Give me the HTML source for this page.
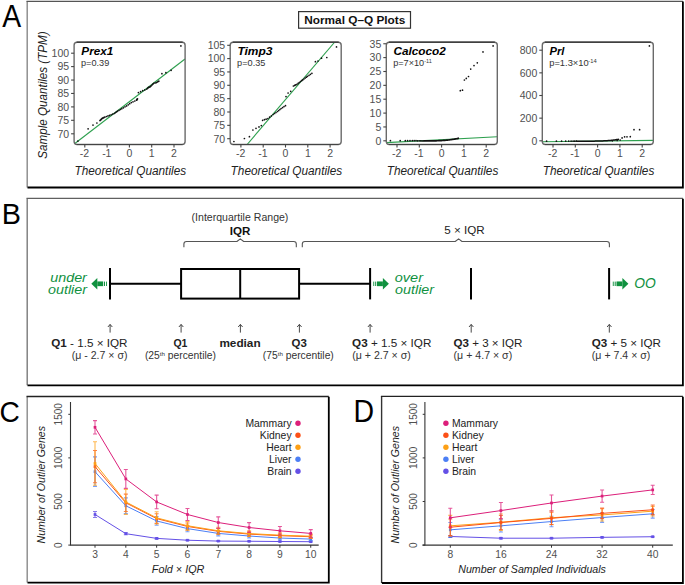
<!DOCTYPE html>
<html><head><meta charset="utf-8"><style>
html,body{margin:0;padding:0;background:#fff;}
svg{display:block;}
text{font-family:"Liberation Sans", sans-serif;}
</style></head><body>
<svg width="685" height="585" viewBox="0 0 685 585">
<rect width="685" height="585" fill="#fff"/>
<text x="2.20" y="26.60" font-size="31.5" fill="#000" font-weight="normal" font-style="normal" text-anchor="start" textLength="18.90" lengthAdjust="spacingAndGlyphs">A</text>
<text x="1.80" y="223.70" font-size="28.8" fill="#000" font-weight="normal" font-style="normal" text-anchor="start">B</text>
<text x="-0.40" y="421.70" font-size="29.5" fill="#000" font-weight="normal" font-style="normal" text-anchor="start" textLength="20.30" lengthAdjust="spacingAndGlyphs">C</text>
<text x="353.60" y="421.80" font-size="31.2" fill="#000" font-weight="normal" font-style="normal" text-anchor="start" textLength="20.60" lengthAdjust="spacingAndGlyphs">D</text>
<path d="M27.20,187.50 L27.20,1.30" fill="none" stroke="#888" stroke-width="1.4"/>
<path d="M26.50,1.30 L682.90,1.30" fill="none" stroke="#555" stroke-width="1.3"/>
<path d="M682.90,1.60 L682.90,187.50 L27.50,187.50" fill="none" stroke="#000" stroke-width="1.8"/>
<path d="M27.20,385.30 L27.20,198.40" fill="none" stroke="#7a7a7a" stroke-width="1.4"/>
<path d="M26.50,198.40 L682.90,198.40" fill="none" stroke="#606060" stroke-width="1.3"/>
<path d="M682.90,198.70 L682.90,385.30 L27.50,385.30" fill="none" stroke="#000" stroke-width="1.8"/>
<path d="M27.20,582.60 L27.20,396.50" fill="none" stroke="#8a8a8a" stroke-width="1.4"/>
<path d="M26.50,396.50 L328.80,396.50" fill="none" stroke="#222" stroke-width="1.3"/>
<path d="M328.80,396.80 L328.80,582.60 L27.50,582.60" fill="none" stroke="#000" stroke-width="1.8"/>
<path d="M381.60,583.00 L381.60,396.40" fill="none" stroke="#333" stroke-width="1.4"/>
<path d="M380.90,396.40 L682.90,396.40" fill="none" stroke="#222" stroke-width="1.3"/>
<path d="M682.90,396.70 L682.90,583.00 L381.90,583.00" fill="none" stroke="#000" stroke-width="1.8"/>
<rect x="298.6" y="11.6" width="111.9" height="16.6" fill="none" stroke="#333" stroke-width="1.2"/>
<text x="304.30" y="23.80" font-size="11" fill="#111" font-weight="bold" font-style="normal" text-anchor="start" textLength="101.00" lengthAdjust="spacingAndGlyphs">Normal Q–Q Plots</text>
<text transform="translate(46.5,95.0) rotate(-90)" x="0" y="0" font-size="12" fill="#222" font-style="italic" text-anchor="middle" textLength="127.3" lengthAdjust="spacingAndGlyphs">Sample Quantiles (TPM)</text>
<clipPath id="cp0"><rect x="74.10" y="42.2" width="111.0" height="102.3"/></clipPath>
<g clip-path="url(#cp0)">
<line x1="74.50" y1="143.80" x2="185.00" y2="59.00" stroke="#2ea04f" stroke-width="1.1"/>
<circle cx="77.9" cy="141.1" r="0.85" fill="#111"/>
<circle cx="88.1" cy="128.8" r="0.85" fill="#111"/>
<circle cx="93.0" cy="125.1" r="0.85" fill="#111"/>
<circle cx="96.9" cy="123.0" r="0.85" fill="#111"/>
<circle cx="100.0" cy="120.6" r="0.85" fill="#111"/>
<circle cx="100.5" cy="120.0" r="0.85" fill="#111"/>
<circle cx="101.1" cy="119.4" r="0.85" fill="#111"/>
<circle cx="101.8" cy="118.8" r="0.85" fill="#111"/>
<circle cx="102.4" cy="118.2" r="0.85" fill="#111"/>
<circle cx="103.3" cy="117.8" r="0.85" fill="#111"/>
<circle cx="104.1" cy="117.4" r="0.85" fill="#111"/>
<circle cx="105.0" cy="117.0" r="0.85" fill="#111"/>
<circle cx="106.5" cy="116.5" r="0.85" fill="#111"/>
<circle cx="108.0" cy="115.9" r="0.85" fill="#111"/>
<circle cx="109.5" cy="115.4" r="0.85" fill="#111"/>
<circle cx="111.1" cy="114.8" r="0.85" fill="#111"/>
<circle cx="112.6" cy="114.1" r="0.85" fill="#111"/>
<circle cx="114.2" cy="113.5" r="0.85" fill="#111"/>
<circle cx="115.3" cy="112.7" r="0.85" fill="#111"/>
<circle cx="116.5" cy="111.9" r="0.85" fill="#111"/>
<circle cx="117.6" cy="111.1" r="0.85" fill="#111"/>
<circle cx="119.0" cy="110.3" r="0.85" fill="#111"/>
<circle cx="120.4" cy="109.5" r="0.85" fill="#111"/>
<circle cx="121.8" cy="108.7" r="0.85" fill="#111"/>
<circle cx="123.4" cy="107.8" r="0.85" fill="#111"/>
<circle cx="125.0" cy="106.8" r="0.85" fill="#111"/>
<circle cx="126.6" cy="105.9" r="0.85" fill="#111"/>
<circle cx="128.2" cy="104.8" r="0.85" fill="#111"/>
<circle cx="129.7" cy="103.7" r="0.85" fill="#111"/>
<circle cx="131.3" cy="102.6" r="0.85" fill="#111"/>
<circle cx="133.0" cy="101.8" r="0.85" fill="#111"/>
<circle cx="134.8" cy="101.0" r="0.85" fill="#111"/>
<circle cx="136.5" cy="100.2" r="0.85" fill="#111"/>
<circle cx="136.8" cy="99.7" r="0.85" fill="#111"/>
<circle cx="137.2" cy="99.3" r="0.85" fill="#111"/>
<circle cx="137.5" cy="98.8" r="0.85" fill="#111"/>
<circle cx="138.4" cy="92.6" r="0.85" fill="#111"/>
<circle cx="140.6" cy="91.7" r="0.85" fill="#111"/>
<circle cx="142.7" cy="90.7" r="0.85" fill="#111"/>
<circle cx="144.8" cy="89.9" r="0.85" fill="#111"/>
<circle cx="146.8" cy="89.1" r="0.85" fill="#111"/>
<circle cx="147.7" cy="88.2" r="0.85" fill="#111"/>
<circle cx="148.5" cy="87.4" r="0.85" fill="#111"/>
<circle cx="149.4" cy="87.1" r="0.85" fill="#111"/>
<circle cx="150.3" cy="86.7" r="0.85" fill="#111"/>
<circle cx="151.2" cy="85.8" r="0.85" fill="#111"/>
<circle cx="152.0" cy="85.0" r="0.85" fill="#111"/>
<circle cx="152.8" cy="84.2" r="0.85" fill="#111"/>
<circle cx="153.7" cy="83.3" r="0.85" fill="#111"/>
<circle cx="155.1" cy="82.9" r="0.85" fill="#111"/>
<circle cx="156.4" cy="82.6" r="0.85" fill="#111"/>
<circle cx="157.6" cy="81.9" r="0.85" fill="#111"/>
<circle cx="158.8" cy="81.2" r="0.85" fill="#111"/>
<circle cx="161.9" cy="73.7" r="0.85" fill="#111"/>
<circle cx="165.9" cy="72.7" r="0.85" fill="#111"/>
<circle cx="171.1" cy="70.3" r="0.85" fill="#111"/>
<circle cx="180.9" cy="45.9" r="0.85" fill="#111"/>
</g>
<rect x="74.10" y="42.2" width="111.0" height="102.3" rx="3" fill="none" stroke="#6a6a6a" stroke-width="1.4"/>
<line x1="76.60" y1="42.20" x2="182.60" y2="42.20" stroke="#333" stroke-width="1.2"/>
<line x1="76.60" y1="144.50" x2="182.60" y2="144.50" stroke="#444" stroke-width="1.2"/>
<line x1="84.80" y1="144.50" x2="84.80" y2="147.50" stroke="#444" stroke-width="1.1"/>
<text x="84.50" y="156.90" font-size="10.5" fill="#505050" font-weight="normal" font-style="normal" text-anchor="middle">-2</text>
<line x1="107.10" y1="144.50" x2="107.10" y2="147.50" stroke="#444" stroke-width="1.1"/>
<text x="106.80" y="156.90" font-size="10.5" fill="#505050" font-weight="normal" font-style="normal" text-anchor="middle">-1</text>
<line x1="129.40" y1="144.50" x2="129.40" y2="147.50" stroke="#444" stroke-width="1.1"/>
<text x="129.40" y="156.90" font-size="10.5" fill="#505050" font-weight="normal" font-style="normal" text-anchor="middle">0</text>
<line x1="151.70" y1="144.50" x2="151.70" y2="147.50" stroke="#444" stroke-width="1.1"/>
<text x="151.70" y="156.90" font-size="10.5" fill="#505050" font-weight="normal" font-style="normal" text-anchor="middle">1</text>
<line x1="174.00" y1="144.50" x2="174.00" y2="147.50" stroke="#444" stroke-width="1.1"/>
<text x="174.00" y="156.90" font-size="10.5" fill="#505050" font-weight="normal" font-style="normal" text-anchor="middle">2</text>
<text x="74.50" y="174.70" font-size="12" fill="#222" font-weight="normal" font-style="italic" text-anchor="start" textLength="111.60" lengthAdjust="spacingAndGlyphs">Theoretical Quantiles</text>
<line x1="71.10" y1="53.20" x2="74.10" y2="53.20" stroke="#444" stroke-width="1.1"/>
<text x="69.10" y="57.00" font-size="10.5" fill="#505050" font-weight="normal" font-style="normal" text-anchor="end">100</text>
<line x1="71.10" y1="66.60" x2="74.10" y2="66.60" stroke="#444" stroke-width="1.1"/>
<text x="69.10" y="70.40" font-size="10.5" fill="#505050" font-weight="normal" font-style="normal" text-anchor="end">95</text>
<line x1="71.10" y1="80.05" x2="74.10" y2="80.05" stroke="#444" stroke-width="1.1"/>
<text x="69.10" y="83.85" font-size="10.5" fill="#505050" font-weight="normal" font-style="normal" text-anchor="end">90</text>
<line x1="71.10" y1="93.45" x2="74.10" y2="93.45" stroke="#444" stroke-width="1.1"/>
<text x="69.10" y="97.25" font-size="10.5" fill="#505050" font-weight="normal" font-style="normal" text-anchor="end">85</text>
<line x1="71.10" y1="106.90" x2="74.10" y2="106.90" stroke="#444" stroke-width="1.1"/>
<text x="69.10" y="110.70" font-size="10.5" fill="#505050" font-weight="normal" font-style="normal" text-anchor="end">80</text>
<line x1="71.10" y1="120.30" x2="74.10" y2="120.30" stroke="#444" stroke-width="1.1"/>
<text x="69.10" y="124.10" font-size="10.5" fill="#505050" font-weight="normal" font-style="normal" text-anchor="end">75</text>
<line x1="71.10" y1="133.80" x2="74.10" y2="133.80" stroke="#444" stroke-width="1.1"/>
<text x="69.10" y="137.60" font-size="10.5" fill="#505050" font-weight="normal" font-style="normal" text-anchor="end">70</text>
<text x="81.30" y="55.40" font-size="11.4" fill="#000" font-weight="bold" font-style="italic" text-anchor="start" textLength="32.00" lengthAdjust="spacingAndGlyphs">Prex1</text>
<text x="81.00" y="66.30" font-size="9.8" fill="#333" font-weight="normal" font-style="normal" text-anchor="start" textLength="28.30" lengthAdjust="spacingAndGlyphs">p=0.39</text>
<clipPath id="cp1"><rect x="230.20" y="42.2" width="111.0" height="102.3"/></clipPath>
<g clip-path="url(#cp1)">
<line x1="246.70" y1="145.00" x2="334.80" y2="42.00" stroke="#2ea04f" stroke-width="1.1"/>
<circle cx="233.9" cy="141.5" r="0.85" fill="#111"/>
<circle cx="244.4" cy="138.5" r="0.85" fill="#111"/>
<circle cx="249.4" cy="136.7" r="0.85" fill="#111"/>
<circle cx="252.9" cy="130.0" r="0.85" fill="#111"/>
<circle cx="256.0" cy="128.3" r="0.85" fill="#111"/>
<circle cx="259.0" cy="126.9" r="0.85" fill="#111"/>
<circle cx="261.3" cy="125.6" r="0.85" fill="#111"/>
<circle cx="262.6" cy="120.3" r="0.85" fill="#111"/>
<circle cx="264.4" cy="119.7" r="0.85" fill="#111"/>
<circle cx="266.1" cy="119.2" r="0.85" fill="#111"/>
<circle cx="267.9" cy="118.6" r="0.85" fill="#111"/>
<circle cx="269.6" cy="117.2" r="0.85" fill="#111"/>
<circle cx="271.4" cy="115.9" r="0.85" fill="#111"/>
<circle cx="273.1" cy="114.5" r="0.85" fill="#111"/>
<circle cx="274.6" cy="113.5" r="0.85" fill="#111"/>
<circle cx="276.0" cy="112.5" r="0.85" fill="#111"/>
<circle cx="277.5" cy="111.5" r="0.85" fill="#111"/>
<circle cx="278.7" cy="110.5" r="0.85" fill="#111"/>
<circle cx="279.9" cy="109.5" r="0.85" fill="#111"/>
<circle cx="281.1" cy="108.5" r="0.85" fill="#111"/>
<circle cx="282.6" cy="107.6" r="0.85" fill="#111"/>
<circle cx="284.0" cy="106.6" r="0.85" fill="#111"/>
<circle cx="285.5" cy="105.7" r="0.85" fill="#111"/>
<circle cx="286.0" cy="96.6" r="0.85" fill="#111"/>
<circle cx="288.1" cy="93.0" r="0.85" fill="#111"/>
<circle cx="290.7" cy="91.3" r="0.85" fill="#111"/>
<circle cx="293.4" cy="86.0" r="0.85" fill="#111"/>
<circle cx="294.6" cy="85.4" r="0.85" fill="#111"/>
<circle cx="295.7" cy="84.9" r="0.85" fill="#111"/>
<circle cx="296.9" cy="84.3" r="0.85" fill="#111"/>
<circle cx="298.1" cy="83.4" r="0.85" fill="#111"/>
<circle cx="299.2" cy="82.5" r="0.85" fill="#111"/>
<circle cx="300.4" cy="81.6" r="0.85" fill="#111"/>
<circle cx="301.6" cy="80.7" r="0.85" fill="#111"/>
<circle cx="302.7" cy="79.9" r="0.85" fill="#111"/>
<circle cx="303.9" cy="79.0" r="0.85" fill="#111"/>
<circle cx="305.1" cy="78.1" r="0.85" fill="#111"/>
<circle cx="306.3" cy="77.2" r="0.85" fill="#111"/>
<circle cx="307.5" cy="76.3" r="0.85" fill="#111"/>
<circle cx="309.0" cy="75.3" r="0.85" fill="#111"/>
<circle cx="310.4" cy="74.3" r="0.85" fill="#111"/>
<circle cx="311.9" cy="73.3" r="0.85" fill="#111"/>
<circle cx="315.4" cy="61.7" r="0.85" fill="#111"/>
<circle cx="318.0" cy="61.0" r="0.85" fill="#111"/>
<circle cx="321.5" cy="58.2" r="0.85" fill="#111"/>
<circle cx="326.8" cy="57.5" r="0.85" fill="#111"/>
<circle cx="336.5" cy="46.9" r="0.85" fill="#111"/>
</g>
<rect x="230.20" y="42.2" width="111.0" height="102.3" rx="3" fill="none" stroke="#6a6a6a" stroke-width="1.4"/>
<line x1="232.70" y1="42.20" x2="338.70" y2="42.20" stroke="#333" stroke-width="1.2"/>
<line x1="232.70" y1="144.50" x2="338.70" y2="144.50" stroke="#444" stroke-width="1.2"/>
<line x1="240.90" y1="144.50" x2="240.90" y2="147.50" stroke="#444" stroke-width="1.1"/>
<text x="240.60" y="156.90" font-size="10.5" fill="#505050" font-weight="normal" font-style="normal" text-anchor="middle">-2</text>
<line x1="263.20" y1="144.50" x2="263.20" y2="147.50" stroke="#444" stroke-width="1.1"/>
<text x="262.90" y="156.90" font-size="10.5" fill="#505050" font-weight="normal" font-style="normal" text-anchor="middle">-1</text>
<line x1="285.50" y1="144.50" x2="285.50" y2="147.50" stroke="#444" stroke-width="1.1"/>
<text x="285.50" y="156.90" font-size="10.5" fill="#505050" font-weight="normal" font-style="normal" text-anchor="middle">0</text>
<line x1="307.80" y1="144.50" x2="307.80" y2="147.50" stroke="#444" stroke-width="1.1"/>
<text x="307.80" y="156.90" font-size="10.5" fill="#505050" font-weight="normal" font-style="normal" text-anchor="middle">1</text>
<line x1="330.10" y1="144.50" x2="330.10" y2="147.50" stroke="#444" stroke-width="1.1"/>
<text x="330.10" y="156.90" font-size="10.5" fill="#505050" font-weight="normal" font-style="normal" text-anchor="middle">2</text>
<text x="230.60" y="174.70" font-size="12" fill="#222" font-weight="normal" font-style="italic" text-anchor="start" textLength="111.60" lengthAdjust="spacingAndGlyphs">Theoretical Quantiles</text>
<line x1="227.20" y1="45.30" x2="230.20" y2="45.30" stroke="#444" stroke-width="1.1"/>
<text x="225.20" y="49.10" font-size="10.5" fill="#505050" font-weight="normal" font-style="normal" text-anchor="end">105</text>
<line x1="227.20" y1="58.60" x2="230.20" y2="58.60" stroke="#444" stroke-width="1.1"/>
<text x="225.20" y="62.40" font-size="10.5" fill="#505050" font-weight="normal" font-style="normal" text-anchor="end">100</text>
<line x1="227.20" y1="71.95" x2="230.20" y2="71.95" stroke="#444" stroke-width="1.1"/>
<text x="225.20" y="75.75" font-size="10.5" fill="#505050" font-weight="normal" font-style="normal" text-anchor="end">95</text>
<line x1="227.20" y1="85.30" x2="230.20" y2="85.30" stroke="#444" stroke-width="1.1"/>
<text x="225.20" y="89.10" font-size="10.5" fill="#505050" font-weight="normal" font-style="normal" text-anchor="end">90</text>
<line x1="227.20" y1="98.65" x2="230.20" y2="98.65" stroke="#444" stroke-width="1.1"/>
<text x="225.20" y="102.45" font-size="10.5" fill="#505050" font-weight="normal" font-style="normal" text-anchor="end">85</text>
<line x1="227.20" y1="112.00" x2="230.20" y2="112.00" stroke="#444" stroke-width="1.1"/>
<text x="225.20" y="115.80" font-size="10.5" fill="#505050" font-weight="normal" font-style="normal" text-anchor="end">80</text>
<line x1="227.20" y1="125.35" x2="230.20" y2="125.35" stroke="#444" stroke-width="1.1"/>
<text x="225.20" y="129.15" font-size="10.5" fill="#505050" font-weight="normal" font-style="normal" text-anchor="end">75</text>
<line x1="227.20" y1="138.70" x2="230.20" y2="138.70" stroke="#444" stroke-width="1.1"/>
<text x="225.20" y="142.50" font-size="10.5" fill="#505050" font-weight="normal" font-style="normal" text-anchor="end">70</text>
<text x="237.40" y="55.40" font-size="11.4" fill="#000" font-weight="bold" font-style="italic" text-anchor="start" textLength="35.00" lengthAdjust="spacingAndGlyphs">Timp3</text>
<text x="237.10" y="66.30" font-size="9.8" fill="#333" font-weight="normal" font-style="normal" text-anchor="start" textLength="28.30" lengthAdjust="spacingAndGlyphs">p=0.35</text>
<clipPath id="cp2"><rect x="386.30" y="42.2" width="111.0" height="102.3"/></clipPath>
<g clip-path="url(#cp2)">
<line x1="386.30" y1="142.60" x2="497.30" y2="136.80" stroke="#2ea04f" stroke-width="1.1"/>
<circle cx="460.3" cy="90.7" r="0.85" fill="#111"/>
<circle cx="462.5" cy="90.2" r="0.85" fill="#111"/>
<circle cx="464.4" cy="80.0" r="0.85" fill="#111"/>
<circle cx="466.3" cy="78.4" r="0.85" fill="#111"/>
<circle cx="468.5" cy="76.5" r="0.85" fill="#111"/>
<circle cx="470.7" cy="69.1" r="0.85" fill="#111"/>
<circle cx="474.0" cy="65.6" r="0.85" fill="#111"/>
<circle cx="477.3" cy="62.8" r="0.85" fill="#111"/>
<circle cx="483.0" cy="51.9" r="0.85" fill="#111"/>
<circle cx="493.1" cy="45.9" r="0.85" fill="#111"/>
<circle cx="390.4" cy="140.7" r="0.85" fill="#111"/>
<circle cx="400.2" cy="140.7" r="0.85" fill="#111"/>
<circle cx="405.3" cy="140.7" r="0.85" fill="#111"/>
<circle cx="407.6" cy="140.7" r="0.85" fill="#111"/>
<circle cx="410.0" cy="140.7" r="0.85" fill="#111"/>
<circle cx="412.3" cy="140.7" r="0.85" fill="#111"/>
<circle cx="414.2" cy="140.7" r="0.85" fill="#111"/>
<circle cx="416.0" cy="140.7" r="0.85" fill="#111"/>
<circle cx="417.6" cy="140.8" r="0.85" fill="#111"/>
<circle cx="419.2" cy="140.8" r="0.85" fill="#111"/>
<circle cx="420.7" cy="140.8" r="0.85" fill="#111"/>
<circle cx="422.0" cy="140.9" r="0.85" fill="#111"/>
<circle cx="423.3" cy="140.9" r="0.85" fill="#111"/>
</g>
<rect x="386.30" y="42.2" width="111.0" height="102.3" rx="3" fill="none" stroke="#6a6a6a" stroke-width="1.4"/>
<line x1="388.80" y1="42.20" x2="494.80" y2="42.20" stroke="#333" stroke-width="1.2"/>
<line x1="388.80" y1="144.50" x2="494.80" y2="144.50" stroke="#444" stroke-width="1.2"/>
<line x1="397.00" y1="144.50" x2="397.00" y2="147.50" stroke="#444" stroke-width="1.1"/>
<text x="396.70" y="156.90" font-size="10.5" fill="#505050" font-weight="normal" font-style="normal" text-anchor="middle">-2</text>
<line x1="419.30" y1="144.50" x2="419.30" y2="147.50" stroke="#444" stroke-width="1.1"/>
<text x="419.00" y="156.90" font-size="10.5" fill="#505050" font-weight="normal" font-style="normal" text-anchor="middle">-1</text>
<line x1="441.60" y1="144.50" x2="441.60" y2="147.50" stroke="#444" stroke-width="1.1"/>
<text x="441.60" y="156.90" font-size="10.5" fill="#505050" font-weight="normal" font-style="normal" text-anchor="middle">0</text>
<line x1="463.90" y1="144.50" x2="463.90" y2="147.50" stroke="#444" stroke-width="1.1"/>
<text x="463.90" y="156.90" font-size="10.5" fill="#505050" font-weight="normal" font-style="normal" text-anchor="middle">1</text>
<line x1="486.20" y1="144.50" x2="486.20" y2="147.50" stroke="#444" stroke-width="1.1"/>
<text x="486.20" y="156.90" font-size="10.5" fill="#505050" font-weight="normal" font-style="normal" text-anchor="middle">2</text>
<text x="386.70" y="174.70" font-size="12" fill="#222" font-weight="normal" font-style="italic" text-anchor="start" textLength="111.60" lengthAdjust="spacingAndGlyphs">Theoretical Quantiles</text>
<line x1="383.30" y1="43.75" x2="386.30" y2="43.75" stroke="#444" stroke-width="1.1"/>
<text x="381.30" y="47.55" font-size="10.5" fill="#505050" font-weight="normal" font-style="normal" text-anchor="end">35</text>
<line x1="383.30" y1="57.60" x2="386.30" y2="57.60" stroke="#444" stroke-width="1.1"/>
<text x="381.30" y="61.40" font-size="10.5" fill="#505050" font-weight="normal" font-style="normal" text-anchor="end">30</text>
<line x1="383.30" y1="71.50" x2="386.30" y2="71.50" stroke="#444" stroke-width="1.1"/>
<text x="381.30" y="75.30" font-size="10.5" fill="#505050" font-weight="normal" font-style="normal" text-anchor="end">25</text>
<line x1="383.30" y1="85.35" x2="386.30" y2="85.35" stroke="#444" stroke-width="1.1"/>
<text x="381.30" y="89.15" font-size="10.5" fill="#505050" font-weight="normal" font-style="normal" text-anchor="end">20</text>
<line x1="383.30" y1="99.20" x2="386.30" y2="99.20" stroke="#444" stroke-width="1.1"/>
<text x="381.30" y="103.00" font-size="10.5" fill="#505050" font-weight="normal" font-style="normal" text-anchor="end">15</text>
<line x1="383.30" y1="113.10" x2="386.30" y2="113.10" stroke="#444" stroke-width="1.1"/>
<text x="381.30" y="116.90" font-size="10.5" fill="#505050" font-weight="normal" font-style="normal" text-anchor="end">10</text>
<line x1="383.30" y1="126.95" x2="386.30" y2="126.95" stroke="#444" stroke-width="1.1"/>
<text x="381.30" y="130.75" font-size="10.5" fill="#505050" font-weight="normal" font-style="normal" text-anchor="end">5</text>
<line x1="383.30" y1="140.80" x2="386.30" y2="140.80" stroke="#444" stroke-width="1.1"/>
<text x="381.30" y="144.60" font-size="10.5" fill="#505050" font-weight="normal" font-style="normal" text-anchor="end">0</text>
<text x="393.50" y="55.40" font-size="11.4" fill="#000" font-weight="bold" font-style="italic" text-anchor="start" textLength="52.30" lengthAdjust="spacingAndGlyphs">Calcoco2</text>
<text x="393.20" y="66.30" font-size="9.8" fill="#333" font-weight="normal" font-style="normal" text-anchor="start" textLength="31.00" lengthAdjust="spacingAndGlyphs">p=7×10</text>
<clipPath id="cp3"><rect x="542.30" y="42.2" width="111.0" height="102.3"/></clipPath>
<g clip-path="url(#cp3)">
<line x1="542.30" y1="141.70" x2="654.00" y2="140.40" stroke="#2ea04f" stroke-width="1.1"/>
<circle cx="546.6" cy="141.2" r="0.85" fill="#111"/>
<circle cx="556.4" cy="141.2" r="0.85" fill="#111"/>
<circle cx="561.6" cy="141.2" r="0.85" fill="#111"/>
<circle cx="565.7" cy="141.2" r="0.85" fill="#111"/>
<circle cx="568.7" cy="141.2" r="0.85" fill="#111"/>
<circle cx="571.1" cy="141.2" r="0.85" fill="#111"/>
<circle cx="573.1" cy="141.2" r="0.85" fill="#111"/>
<circle cx="574.7" cy="141.2" r="0.85" fill="#111"/>
<circle cx="576.2" cy="141.2" r="0.85" fill="#111"/>
<circle cx="612.3" cy="140.8" r="0.85" fill="#111"/>
<circle cx="617.2" cy="140.4" r="0.85" fill="#111"/>
<circle cx="620.2" cy="140.0" r="0.85" fill="#111"/>
<circle cx="622.1" cy="137.9" r="0.85" fill="#111"/>
<circle cx="624.6" cy="136.8" r="0.85" fill="#111"/>
<circle cx="627.0" cy="136.8" r="0.85" fill="#111"/>
<circle cx="630.3" cy="136.7" r="0.85" fill="#111"/>
<circle cx="634.0" cy="129.7" r="0.85" fill="#111"/>
<circle cx="639.6" cy="129.7" r="0.85" fill="#111"/>
<circle cx="649.4" cy="45.9" r="0.85" fill="#111"/>
</g>
<rect x="542.30" y="42.2" width="111.0" height="102.3" rx="3" fill="none" stroke="#6a6a6a" stroke-width="1.4"/>
<line x1="544.80" y1="42.20" x2="650.80" y2="42.20" stroke="#333" stroke-width="1.2"/>
<line x1="544.80" y1="144.50" x2="650.80" y2="144.50" stroke="#444" stroke-width="1.2"/>
<line x1="553.00" y1="144.50" x2="553.00" y2="147.50" stroke="#444" stroke-width="1.1"/>
<text x="552.70" y="156.90" font-size="10.5" fill="#505050" font-weight="normal" font-style="normal" text-anchor="middle">-2</text>
<line x1="575.30" y1="144.50" x2="575.30" y2="147.50" stroke="#444" stroke-width="1.1"/>
<text x="575.00" y="156.90" font-size="10.5" fill="#505050" font-weight="normal" font-style="normal" text-anchor="middle">-1</text>
<line x1="597.60" y1="144.50" x2="597.60" y2="147.50" stroke="#444" stroke-width="1.1"/>
<text x="597.60" y="156.90" font-size="10.5" fill="#505050" font-weight="normal" font-style="normal" text-anchor="middle">0</text>
<line x1="619.90" y1="144.50" x2="619.90" y2="147.50" stroke="#444" stroke-width="1.1"/>
<text x="619.90" y="156.90" font-size="10.5" fill="#505050" font-weight="normal" font-style="normal" text-anchor="middle">1</text>
<line x1="642.20" y1="144.50" x2="642.20" y2="147.50" stroke="#444" stroke-width="1.1"/>
<text x="642.20" y="156.90" font-size="10.5" fill="#505050" font-weight="normal" font-style="normal" text-anchor="middle">2</text>
<text x="542.70" y="174.70" font-size="12" fill="#222" font-weight="normal" font-style="italic" text-anchor="start" textLength="111.60" lengthAdjust="spacingAndGlyphs">Theoretical Quantiles</text>
<line x1="539.30" y1="50.20" x2="542.30" y2="50.20" stroke="#444" stroke-width="1.1"/>
<text x="537.30" y="54.00" font-size="10.5" fill="#505050" font-weight="normal" font-style="normal" text-anchor="end">800</text>
<line x1="539.30" y1="72.85" x2="542.30" y2="72.85" stroke="#444" stroke-width="1.1"/>
<text x="537.30" y="76.65" font-size="10.5" fill="#505050" font-weight="normal" font-style="normal" text-anchor="end">600</text>
<line x1="539.30" y1="95.50" x2="542.30" y2="95.50" stroke="#444" stroke-width="1.1"/>
<text x="537.30" y="99.30" font-size="10.5" fill="#505050" font-weight="normal" font-style="normal" text-anchor="end">400</text>
<line x1="539.30" y1="118.15" x2="542.30" y2="118.15" stroke="#444" stroke-width="1.1"/>
<text x="537.30" y="121.95" font-size="10.5" fill="#505050" font-weight="normal" font-style="normal" text-anchor="end">200</text>
<line x1="539.30" y1="140.80" x2="542.30" y2="140.80" stroke="#444" stroke-width="1.1"/>
<text x="537.30" y="144.60" font-size="10.5" fill="#505050" font-weight="normal" font-style="normal" text-anchor="end">0</text>
<text x="549.50" y="55.40" font-size="11.4" fill="#000" font-weight="bold" font-style="italic" text-anchor="start" textLength="14.90" lengthAdjust="spacingAndGlyphs">Prl</text>
<text x="549.20" y="66.30" font-size="9.8" fill="#333" font-weight="normal" font-style="normal" text-anchor="start" textLength="39.50" lengthAdjust="spacingAndGlyphs">p=1.3×10</text>
<text x="424.30" y="63.30" font-size="5.5" fill="#333" font-weight="normal" font-style="normal" text-anchor="start" textLength="7.50" lengthAdjust="spacingAndGlyphs">-11</text>
<text x="588.30" y="63.30" font-size="5.5" fill="#333" font-weight="normal" font-style="normal" text-anchor="start" textLength="8.30" lengthAdjust="spacingAndGlyphs">-14</text>
<polyline points="424.00,140.90 424.88,140.90 425.75,140.90 426.62,140.90 427.50,140.90 428.38,140.89 429.25,140.89 430.12,140.89 431.00,140.88 431.88,140.87 432.75,140.86 433.62,140.84 434.50,140.83 435.38,140.81 436.25,140.78 437.12,140.76 438.00,140.73 438.88,140.69 439.75,140.65 440.62,140.61 441.50,140.56 442.38,140.51 443.25,140.45 444.12,140.39 445.00,140.32 445.88,140.24 446.75,140.16 447.62,140.07 448.50,139.97 449.38,139.87 450.25,139.76 451.12,139.64 452.00,139.52 452.88,139.38 453.75,139.24 454.62,139.09 455.50,138.93 456.38,138.76 457.25,138.59 458.12,138.40 459.00,138.20" fill="none" stroke="#111" stroke-width="1.7"/>
<polyline points="576.00,141.20 577.08,141.20 578.15,141.20 579.23,141.20 580.30,141.20 581.38,141.20 582.45,141.20 583.52,141.20 584.60,141.20 585.67,141.19 586.75,141.19 587.83,141.19 588.90,141.18 589.98,141.18 591.05,141.17 592.12,141.16 593.20,141.15 594.27,141.13 595.35,141.12 596.42,141.10 597.50,141.07 598.58,141.05 599.65,141.02 600.73,140.98 601.80,140.94 602.88,140.89 603.95,140.84 605.02,140.78 606.10,140.72 607.17,140.65 608.25,140.57 609.33,140.48 610.40,140.38 611.48,140.27 612.55,140.16 613.62,140.03 614.70,139.89 615.77,139.74 616.85,139.57 617.92,139.39 619.00,139.20" fill="none" stroke="#111" stroke-width="1.5"/>
<path d="M183.90,247.20 L183.90,244.10 Q183.90,241.50 186.50,241.50 L236.90,241.50 L240.30,238.90 L243.70,241.50 L293.70,241.50 Q296.30,241.50 296.30,244.10 L296.30,247.20" fill="none" stroke="#555" stroke-width="1.1" stroke-linejoin="round"/>
<path d="M302.30,247.20 L302.30,244.10 Q302.30,241.50 304.90,241.50 L455.20,241.50 L458.60,238.90 L462.00,241.50 L606.80,241.50 Q609.40,241.50 609.40,244.10 L609.40,247.20" fill="none" stroke="#555" stroke-width="1.1" stroke-linejoin="round"/>
<text x="191.60" y="220.90" font-size="10.5" fill="#333" font-weight="normal" font-style="normal" text-anchor="start" textLength="96.80" lengthAdjust="spacingAndGlyphs">(Interquartile Range)</text>
<text x="229.80" y="234.60" font-size="11" fill="#111" font-weight="bold" font-style="normal" text-anchor="start" textLength="20.60" lengthAdjust="spacingAndGlyphs">IQR</text>
<text x="444.20" y="233.70" font-size="11.4" fill="#222" font-weight="normal" font-style="normal" text-anchor="start" textLength="40.40" lengthAdjust="spacingAndGlyphs">5 × IQR</text>
<line x1="110.00" y1="283.80" x2="181.10" y2="283.80" stroke="#000" stroke-width="2"/>
<line x1="299.10" y1="283.80" x2="370.10" y2="283.80" stroke="#000" stroke-width="2"/>
<rect x="181.1" y="269" width="118" height="29.6" fill="none" stroke="#000" stroke-width="2"/>
<line x1="240.20" y1="269.00" x2="240.20" y2="298.60" stroke="#000" stroke-width="2"/>
<line x1="110.00" y1="268.00" x2="110.00" y2="299.40" stroke="#000" stroke-width="2"/>
<line x1="370.10" y1="268.00" x2="370.10" y2="299.40" stroke="#000" stroke-width="2"/>
<line x1="471.00" y1="268.00" x2="471.00" y2="299.40" stroke="#000" stroke-width="2"/>
<line x1="609.10" y1="268.00" x2="609.10" y2="299.40" stroke="#000" stroke-width="2"/>
<rect x="106.00" y="281.60" width="0.90" height="4.40" fill="#10913f"/>
<rect x="104.00" y="281.60" width="1.00" height="4.40" fill="#10913f"/>
<rect x="97.30" y="281.45" width="5.90" height="4.70" fill="#10913f"/>
<path d="M97.30,278.10 L91.30,283.80 L97.30,289.60 Z" fill="#10913f"/>
<rect x="373.30" y="281.60" width="0.90" height="4.40" fill="#10913f"/>
<rect x="375.20" y="281.60" width="1.00" height="4.40" fill="#10913f"/>
<rect x="377.00" y="281.45" width="5.90" height="4.70" fill="#10913f"/>
<path d="M382.90,278.10 L388.90,283.80 L382.90,289.60 Z" fill="#10913f"/>
<rect x="612.80" y="281.60" width="0.90" height="4.40" fill="#10913f"/>
<rect x="614.70" y="281.60" width="1.00" height="4.40" fill="#10913f"/>
<rect x="616.50" y="281.45" width="5.90" height="4.70" fill="#10913f"/>
<path d="M622.40,278.10 L628.40,283.80 L622.40,289.60 Z" fill="#10913f"/>
<text x="50.30" y="282.10" font-size="12" fill="#10913f" font-weight="normal" font-style="italic" text-anchor="start" textLength="36.60" lengthAdjust="spacingAndGlyphs">under</text>
<text x="48.00" y="293.50" font-size="12" fill="#10913f" font-weight="normal" font-style="italic" text-anchor="start" textLength="39.00" lengthAdjust="spacingAndGlyphs">outlier</text>
<text x="394.80" y="281.70" font-size="12" fill="#10913f" font-weight="normal" font-style="italic" text-anchor="start" textLength="28.20" lengthAdjust="spacingAndGlyphs">over</text>
<text x="395.10" y="293.50" font-size="12" fill="#10913f" font-weight="normal" font-style="italic" text-anchor="start" textLength="39.00" lengthAdjust="spacingAndGlyphs">outlier</text>
<text x="634.30" y="288.00" font-size="13.8" fill="#10913f" font-weight="normal" font-style="italic" text-anchor="start" textLength="21.50" lengthAdjust="spacingAndGlyphs">OO</text>
<path d="M110.10,332.6 L110.10,324.6 M107.90,327.0 L110.10,324.4 L112.30,327.0" fill="none" stroke="#333" stroke-width="0.9"/>
<path d="M181.10,332.6 L181.10,324.6 M178.90,327.0 L181.10,324.4 L183.30,327.0" fill="none" stroke="#333" stroke-width="0.9"/>
<path d="M240.40,332.6 L240.40,324.6 M238.20,327.0 L240.40,324.4 L242.60,327.0" fill="none" stroke="#333" stroke-width="0.9"/>
<path d="M299.40,332.6 L299.40,324.6 M297.20,327.0 L299.40,324.4 L301.60,327.0" fill="none" stroke="#333" stroke-width="0.9"/>
<path d="M370.10,332.6 L370.10,324.6 M367.90,327.0 L370.10,324.4 L372.30,327.0" fill="none" stroke="#333" stroke-width="0.9"/>
<path d="M471.20,332.6 L471.20,324.6 M469.00,327.0 L471.20,324.4 L473.40,327.0" fill="none" stroke="#333" stroke-width="0.9"/>
<path d="M609.30,332.6 L609.30,324.6 M607.10,327.0 L609.30,324.4 L611.50,327.0" fill="none" stroke="#333" stroke-width="0.9"/>
<text x="51.30" y="346.50" font-size="10.5" fill="#222" font-weight="normal" font-style="normal" text-anchor="start" textLength="76.20" lengthAdjust="spacingAndGlyphs"><tspan font-weight="bold">Q1</tspan><tspan font-weight="normal"> - 1.5 × IQR</tspan></text>
<text x="71.80" y="358.70" font-size="10.1" fill="#333" font-weight="normal" font-style="normal" text-anchor="start" textLength="55.60" lengthAdjust="spacingAndGlyphs">(μ - 2.7 × σ)</text>
<text x="173.40" y="346.70" font-size="10.5" fill="#222" font-weight="normal" font-style="normal" text-anchor="start" textLength="14.00" lengthAdjust="spacingAndGlyphs"><tspan font-weight="bold">Q1</tspan></text>
<text x="144.90" y="359.30" font-size="10.3" fill="#333" font-weight="normal" font-style="normal" text-anchor="start">(25<tspan font-size="6.2" dy="-3.8">th</tspan><tspan dy="3.8"> percentile)</tspan></text>
<text x="219.40" y="346.70" font-size="10.5" fill="#222" font-weight="normal" font-style="normal" text-anchor="start" textLength="41.20" lengthAdjust="spacingAndGlyphs"><tspan font-weight="bold">median</tspan></text>
<text x="291.60" y="346.70" font-size="10.5" fill="#222" font-weight="normal" font-style="normal" text-anchor="start" textLength="15.30" lengthAdjust="spacingAndGlyphs"><tspan font-weight="bold">Q3</tspan></text>
<text x="262.80" y="359.30" font-size="10.3" fill="#333" font-weight="normal" font-style="normal" text-anchor="start">(75<tspan font-size="6.2" dy="-3.8">th</tspan><tspan dy="3.8"> percentile)</tspan></text>
<text x="352.10" y="346.60" font-size="10.5" fill="#222" font-weight="normal" font-style="normal" text-anchor="start" textLength="79.30" lengthAdjust="spacingAndGlyphs"><tspan font-weight="bold">Q3</tspan><tspan font-weight="normal"> + 1.5 × IQR</tspan></text>
<text x="352.20" y="358.90" font-size="10.1" fill="#333" font-weight="normal" font-style="normal" text-anchor="start" textLength="58.60" lengthAdjust="spacingAndGlyphs">(μ + 2.7 × σ)</text>
<text x="453.50" y="346.60" font-size="10.5" fill="#222" font-weight="normal" font-style="normal" text-anchor="start" textLength="69.00" lengthAdjust="spacingAndGlyphs"><tspan font-weight="bold">Q3</tspan><tspan font-weight="normal"> + 3 × IQR</tspan></text>
<text x="453.60" y="358.90" font-size="10.1" fill="#333" font-weight="normal" font-style="normal" text-anchor="start" textLength="58.60" lengthAdjust="spacingAndGlyphs">(μ + 4.7 × σ)</text>
<text x="591.70" y="346.60" font-size="10.5" fill="#222" font-weight="normal" font-style="normal" text-anchor="start" textLength="69.30" lengthAdjust="spacingAndGlyphs"><tspan font-weight="bold">Q3</tspan><tspan font-weight="normal"> + 5 × IQR</tspan></text>
<text x="591.80" y="358.90" font-size="10.1" fill="#333" font-weight="normal" font-style="normal" text-anchor="start" textLength="58.60" lengthAdjust="spacingAndGlyphs">(μ + 7.4 × σ)</text>
<line x1="70.50" y1="402.00" x2="70.50" y2="545.60" stroke="#333" stroke-width="1.1"/>
<line x1="70.50" y1="545.10" x2="318.70" y2="545.10" stroke="#333" stroke-width="1.1"/>
<line x1="68.30" y1="545.10" x2="70.50" y2="545.10" stroke="#333" stroke-width="1"/>
<text transform="translate(62.20,545.10) rotate(-90)" x="0" y="0" font-size="10" fill="#505050" text-anchor="middle">0</text>
<line x1="68.30" y1="501.50" x2="70.50" y2="501.50" stroke="#333" stroke-width="1"/>
<text transform="translate(62.20,501.50) rotate(-90)" x="0" y="0" font-size="10" fill="#505050" text-anchor="middle">500</text>
<line x1="68.30" y1="457.90" x2="70.50" y2="457.90" stroke="#333" stroke-width="1"/>
<text transform="translate(62.20,457.90) rotate(-90)" x="0" y="0" font-size="10" fill="#505050" text-anchor="middle">1000</text>
<line x1="68.30" y1="414.30" x2="70.50" y2="414.30" stroke="#333" stroke-width="1"/>
<text transform="translate(62.20,414.30) rotate(-90)" x="0" y="0" font-size="10" fill="#505050" text-anchor="middle">1500</text>
<line x1="95.00" y1="545.10" x2="95.00" y2="547.70" stroke="#333" stroke-width="1"/>
<text x="95.00" y="558.40" font-size="10.3" fill="#505050" font-weight="normal" font-style="normal" text-anchor="middle">3</text>
<line x1="125.82" y1="545.10" x2="125.82" y2="547.70" stroke="#333" stroke-width="1"/>
<text x="125.82" y="558.40" font-size="10.3" fill="#505050" font-weight="normal" font-style="normal" text-anchor="middle">4</text>
<line x1="156.64" y1="545.10" x2="156.64" y2="547.70" stroke="#333" stroke-width="1"/>
<text x="156.64" y="558.40" font-size="10.3" fill="#505050" font-weight="normal" font-style="normal" text-anchor="middle">5</text>
<line x1="187.46" y1="545.10" x2="187.46" y2="547.70" stroke="#333" stroke-width="1"/>
<text x="187.46" y="558.40" font-size="10.3" fill="#505050" font-weight="normal" font-style="normal" text-anchor="middle">6</text>
<line x1="218.28" y1="545.10" x2="218.28" y2="547.70" stroke="#333" stroke-width="1"/>
<text x="218.28" y="558.40" font-size="10.3" fill="#505050" font-weight="normal" font-style="normal" text-anchor="middle">7</text>
<line x1="249.10" y1="545.10" x2="249.10" y2="547.70" stroke="#333" stroke-width="1"/>
<text x="249.10" y="558.40" font-size="10.3" fill="#505050" font-weight="normal" font-style="normal" text-anchor="middle">8</text>
<line x1="279.92" y1="545.10" x2="279.92" y2="547.70" stroke="#333" stroke-width="1"/>
<text x="279.92" y="558.40" font-size="10.3" fill="#505050" font-weight="normal" font-style="normal" text-anchor="middle">9</text>
<line x1="310.74" y1="545.10" x2="310.74" y2="547.70" stroke="#333" stroke-width="1"/>
<text x="310.74" y="558.40" font-size="10.3" fill="#505050" font-weight="normal" font-style="normal" text-anchor="middle">10</text>
<text transform="translate(44.60,484.75) rotate(-90)" x="0" y="0" font-size="10.5" fill="#222" font-style="italic" text-anchor="middle" textLength="117.5" lengthAdjust="spacingAndGlyphs">Number of Outlier Genes</text>
<text x="151.80" y="573.00" font-size="10.5" fill="#222" font-weight="normal" font-style="italic" text-anchor="start" textLength="52.60" lengthAdjust="spacingAndGlyphs">Fold × IQR</text>
<path d="M95.00,511.53 L95.00,517.46 M93.00,511.53 L97.00,511.53 M93.00,517.46 L97.00,517.46" stroke="#6450e6" stroke-width="1.1" fill="none" opacity="0.75"/>
<path d="M125.82,532.63 L125.82,534.72 M123.82,532.63 L127.82,532.63 M123.82,534.72 L127.82,534.72" stroke="#6450e6" stroke-width="1.1" fill="none" opacity="0.75"/>
<path d="M156.64,537.69 L156.64,539.08 M154.64,537.69 L158.64,537.69 M154.64,539.08 L158.64,539.08" stroke="#6450e6" stroke-width="1.1" fill="none" opacity="0.75"/>
<path d="M187.46,539.69 L187.46,540.74 M185.46,539.69 L189.46,539.69 M185.46,540.74 L189.46,540.74" stroke="#6450e6" stroke-width="1.1" fill="none" opacity="0.75"/>
<path d="M218.28,540.65 L218.28,541.52 M216.28,540.65 L220.28,540.65 M216.28,541.52 L220.28,541.52" stroke="#6450e6" stroke-width="1.1" fill="none" opacity="0.75"/>
<path d="M249.10,540.83 L249.10,541.70 M247.10,540.83 L251.10,540.83 M247.10,541.70 L251.10,541.70" stroke="#6450e6" stroke-width="1.1" fill="none" opacity="0.75"/>
<path d="M279.92,541.09 L279.92,541.96 M277.92,541.09 L281.92,541.09 M277.92,541.96 L281.92,541.96" stroke="#6450e6" stroke-width="1.1" fill="none" opacity="0.75"/>
<path d="M310.74,541.26 L310.74,542.14 M308.74,541.26 L312.74,541.26 M308.74,542.14 L312.74,542.14" stroke="#6450e6" stroke-width="1.1" fill="none" opacity="0.75"/>
<polyline points="95.00,514.49 125.82,533.68 156.64,538.39 187.46,540.22 218.28,541.09 249.10,541.26 279.92,541.52 310.74,541.70" fill="none" stroke="#6450e6" stroke-width="1.0"/>
<rect x="93.65" y="513.14" width="2.7" height="2.7" fill="#6450e6"/>
<rect x="124.47" y="532.33" width="2.7" height="2.7" fill="#6450e6"/>
<rect x="155.29" y="537.04" width="2.7" height="2.7" fill="#6450e6"/>
<rect x="186.11" y="538.87" width="2.7" height="2.7" fill="#6450e6"/>
<rect x="216.93" y="539.74" width="2.7" height="2.7" fill="#6450e6"/>
<rect x="247.75" y="539.91" width="2.7" height="2.7" fill="#6450e6"/>
<rect x="278.57" y="540.17" width="2.7" height="2.7" fill="#6450e6"/>
<rect x="309.39" y="540.35" width="2.7" height="2.7" fill="#6450e6"/>
<path d="M95.00,456.85 L95.00,486.50 M93.00,456.85 L97.00,456.85 M93.00,486.50 L97.00,486.50" stroke="#4c7ff5" stroke-width="1.1" fill="none" opacity="0.75"/>
<path d="M125.82,497.92 L125.82,513.62 M123.82,497.92 L127.82,497.92 M123.82,513.62 L127.82,513.62" stroke="#4c7ff5" stroke-width="1.1" fill="none" opacity="0.75"/>
<path d="M156.64,516.59 L156.64,525.31 M154.64,516.59 L158.64,516.59 M154.64,525.31 L158.64,525.31" stroke="#4c7ff5" stroke-width="1.1" fill="none" opacity="0.75"/>
<path d="M187.46,525.48 L187.46,531.76 M185.46,525.48 L189.46,525.48 M185.46,531.76 L189.46,531.76" stroke="#4c7ff5" stroke-width="1.1" fill="none" opacity="0.75"/>
<path d="M218.28,530.97 L218.28,535.86 M216.28,530.97 L220.28,530.97 M216.28,535.86 L220.28,535.86" stroke="#4c7ff5" stroke-width="1.1" fill="none" opacity="0.75"/>
<path d="M249.10,534.11 L249.10,537.95 M247.10,534.11 L251.10,534.11 M247.10,537.95 L251.10,537.95" stroke="#4c7ff5" stroke-width="1.1" fill="none" opacity="0.75"/>
<path d="M279.92,536.29 L279.92,539.78 M277.92,536.29 L281.92,536.29 M277.92,539.78 L281.92,539.78" stroke="#4c7ff5" stroke-width="1.1" fill="none" opacity="0.75"/>
<path d="M310.74,537.51 L310.74,540.65 M308.74,537.51 L312.74,537.51 M308.74,540.65 L312.74,540.65" stroke="#4c7ff5" stroke-width="1.1" fill="none" opacity="0.75"/>
<polyline points="95.00,471.68 125.82,505.77 156.64,520.95 187.46,528.62 218.28,533.42 249.10,536.03 279.92,538.04 310.74,539.08" fill="none" stroke="#4c7ff5" stroke-width="1.0"/>
<rect x="93.65" y="470.33" width="2.7" height="2.7" fill="#4c7ff5"/>
<rect x="124.47" y="504.42" width="2.7" height="2.7" fill="#4c7ff5"/>
<rect x="155.29" y="519.60" width="2.7" height="2.7" fill="#4c7ff5"/>
<rect x="186.11" y="527.27" width="2.7" height="2.7" fill="#4c7ff5"/>
<rect x="216.93" y="532.07" width="2.7" height="2.7" fill="#4c7ff5"/>
<rect x="247.75" y="534.68" width="2.7" height="2.7" fill="#4c7ff5"/>
<rect x="278.57" y="536.69" width="2.7" height="2.7" fill="#4c7ff5"/>
<rect x="309.39" y="537.73" width="2.7" height="2.7" fill="#4c7ff5"/>
<path d="M95.00,450.49 L95.00,482.75 M93.00,450.49 L97.00,450.49 M93.00,482.75 L97.00,482.75" stroke="#fc5017" stroke-width="1.1" fill="none" opacity="0.75"/>
<path d="M125.82,494.09 L125.82,511.53 M123.82,494.09 L127.82,494.09 M123.82,511.53 L127.82,511.53" stroke="#fc5017" stroke-width="1.1" fill="none" opacity="0.75"/>
<path d="M156.64,513.80 L156.64,523.39 M154.64,513.80 L158.64,513.80 M154.64,523.39 L158.64,523.39" stroke="#fc5017" stroke-width="1.1" fill="none" opacity="0.75"/>
<path d="M187.46,522.95 L187.46,529.93 M185.46,522.95 L189.46,522.95 M185.46,529.93 L189.46,529.93" stroke="#fc5017" stroke-width="1.1" fill="none" opacity="0.75"/>
<path d="M218.28,528.53 L218.28,534.11 M216.28,528.53 L220.28,528.53 M216.28,534.11 L220.28,534.11" stroke="#fc5017" stroke-width="1.1" fill="none" opacity="0.75"/>
<path d="M249.10,531.85 L249.10,536.38 M247.10,531.85 L251.10,531.85 M247.10,536.38 L251.10,536.38" stroke="#fc5017" stroke-width="1.1" fill="none" opacity="0.75"/>
<path d="M279.92,533.76 L279.92,537.60 M277.92,533.76 L281.92,533.76 M277.92,537.60 L281.92,537.60" stroke="#fc5017" stroke-width="1.1" fill="none" opacity="0.75"/>
<path d="M310.74,534.98 L310.74,538.47 M308.74,534.98 L312.74,534.98 M308.74,538.47 L312.74,538.47" stroke="#fc5017" stroke-width="1.1" fill="none" opacity="0.75"/>
<polyline points="95.00,466.62 125.82,502.81 156.64,518.59 187.46,526.44 218.28,531.32 249.10,534.11 279.92,535.68 310.74,536.73" fill="none" stroke="#fc5017" stroke-width="1.0"/>
<rect x="93.65" y="465.27" width="2.7" height="2.7" fill="#fc5017"/>
<rect x="124.47" y="501.46" width="2.7" height="2.7" fill="#fc5017"/>
<rect x="155.29" y="517.24" width="2.7" height="2.7" fill="#fc5017"/>
<rect x="186.11" y="525.09" width="2.7" height="2.7" fill="#fc5017"/>
<rect x="216.93" y="529.97" width="2.7" height="2.7" fill="#fc5017"/>
<rect x="247.75" y="532.76" width="2.7" height="2.7" fill="#fc5017"/>
<rect x="278.57" y="534.33" width="2.7" height="2.7" fill="#fc5017"/>
<rect x="309.39" y="535.38" width="2.7" height="2.7" fill="#fc5017"/>
<path d="M95.00,441.68 L95.00,485.28 M93.00,441.68 L97.00,441.68 M93.00,485.28 L97.00,485.28" stroke="#fda016" stroke-width="1.1" fill="none" opacity="0.75"/>
<path d="M125.82,489.38 L125.82,514.49 M123.82,489.38 L127.82,489.38 M123.82,514.49 L127.82,514.49" stroke="#fda016" stroke-width="1.1" fill="none" opacity="0.75"/>
<path d="M156.64,511.79 L156.64,524.00 M154.64,511.79 L158.64,511.79 M154.64,524.00 L158.64,524.00" stroke="#fda016" stroke-width="1.1" fill="none" opacity="0.75"/>
<path d="M187.46,521.38 L187.46,530.10 M185.46,521.38 L189.46,521.38 M185.46,530.10 L189.46,530.10" stroke="#fda016" stroke-width="1.1" fill="none" opacity="0.75"/>
<path d="M218.28,527.31 L218.28,534.29 M216.28,527.31 L220.28,527.31 M216.28,534.29 L220.28,534.29" stroke="#fda016" stroke-width="1.1" fill="none" opacity="0.75"/>
<path d="M249.10,530.80 L249.10,536.38 M247.10,530.80 L251.10,530.80 M247.10,536.38 L251.10,536.38" stroke="#fda016" stroke-width="1.1" fill="none" opacity="0.75"/>
<path d="M279.92,532.72 L279.92,537.60 M277.92,532.72 L281.92,532.72 M277.92,537.60 L281.92,537.60" stroke="#fda016" stroke-width="1.1" fill="none" opacity="0.75"/>
<path d="M310.74,534.11 L310.74,538.30 M308.74,534.11 L312.74,534.11 M308.74,538.30 L312.74,538.30" stroke="#fda016" stroke-width="1.1" fill="none" opacity="0.75"/>
<polyline points="95.00,463.48 125.82,501.94 156.64,517.89 187.46,525.74 218.28,530.80 249.10,533.59 279.92,535.16 310.74,536.21" fill="none" stroke="#fda016" stroke-width="1.0"/>
<rect x="93.65" y="462.13" width="2.7" height="2.7" fill="#fda016"/>
<rect x="124.47" y="500.59" width="2.7" height="2.7" fill="#fda016"/>
<rect x="155.29" y="516.54" width="2.7" height="2.7" fill="#fda016"/>
<rect x="186.11" y="524.39" width="2.7" height="2.7" fill="#fda016"/>
<rect x="216.93" y="529.45" width="2.7" height="2.7" fill="#fda016"/>
<rect x="247.75" y="532.24" width="2.7" height="2.7" fill="#fda016"/>
<rect x="278.57" y="533.81" width="2.7" height="2.7" fill="#fda016"/>
<rect x="309.39" y="534.86" width="2.7" height="2.7" fill="#fda016"/>
<path d="M95.00,420.58 L95.00,434.01 M93.00,420.58 L97.00,420.58 M93.00,434.01 L97.00,434.01" stroke="#dc1f7a" stroke-width="1.1" fill="none" opacity="0.75"/>
<path d="M125.82,469.50 L125.82,488.33 M123.82,469.50 L127.82,469.50 M123.82,488.33 L127.82,488.33" stroke="#dc1f7a" stroke-width="1.1" fill="none" opacity="0.75"/>
<path d="M156.64,495.13 L156.64,508.74 M154.64,495.13 L158.64,495.13 M154.64,508.74 L158.64,508.74" stroke="#dc1f7a" stroke-width="1.1" fill="none" opacity="0.75"/>
<path d="M187.46,508.48 L187.46,520.51 M185.46,508.48 L189.46,508.48 M185.46,520.51 L189.46,520.51" stroke="#dc1f7a" stroke-width="1.1" fill="none" opacity="0.75"/>
<path d="M218.28,516.85 L218.28,528.18 M216.28,516.85 L220.28,516.85 M216.28,528.18 L220.28,528.18" stroke="#dc1f7a" stroke-width="1.1" fill="none" opacity="0.75"/>
<path d="M249.10,522.60 L249.10,532.37 M247.10,522.60 L251.10,522.60 M247.10,532.37 L251.10,532.37" stroke="#dc1f7a" stroke-width="1.1" fill="none" opacity="0.75"/>
<path d="M279.92,526.44 L279.92,535.16 M277.92,526.44 L281.92,526.44 M277.92,535.16 L281.92,535.16" stroke="#dc1f7a" stroke-width="1.1" fill="none" opacity="0.75"/>
<path d="M310.74,529.58 L310.74,537.25 M308.74,529.58 L312.74,529.58 M308.74,537.25 L312.74,537.25" stroke="#dc1f7a" stroke-width="1.1" fill="none" opacity="0.75"/>
<polyline points="95.00,427.29 125.82,478.92 156.64,501.94 187.46,514.49 218.28,522.52 249.10,527.49 279.92,530.80 310.74,533.42" fill="none" stroke="#dc1f7a" stroke-width="1.0"/>
<rect x="93.65" y="425.94" width="2.7" height="2.7" fill="#dc1f7a"/>
<rect x="124.47" y="477.57" width="2.7" height="2.7" fill="#dc1f7a"/>
<rect x="155.29" y="500.59" width="2.7" height="2.7" fill="#dc1f7a"/>
<rect x="186.11" y="513.14" width="2.7" height="2.7" fill="#dc1f7a"/>
<rect x="216.93" y="521.17" width="2.7" height="2.7" fill="#dc1f7a"/>
<rect x="247.75" y="526.14" width="2.7" height="2.7" fill="#dc1f7a"/>
<rect x="278.57" y="529.45" width="2.7" height="2.7" fill="#dc1f7a"/>
<rect x="309.39" y="532.07" width="2.7" height="2.7" fill="#dc1f7a"/>
<text x="291.60" y="427.00" font-size="10.4" fill="#222" font-weight="normal" font-style="normal" text-anchor="end">Mammary</text>
<circle cx="298.0" cy="423.3" r="2.7" fill="#dc1f7a"/>
<text x="291.60" y="438.70" font-size="10.4" fill="#222" font-weight="normal" font-style="normal" text-anchor="end">Kidney</text>
<circle cx="298.0" cy="435.2" r="2.7" fill="#fc5017"/>
<text x="291.60" y="450.70" font-size="10.4" fill="#222" font-weight="normal" font-style="normal" text-anchor="end">Heart</text>
<circle cx="298.0" cy="447.2" r="2.7" fill="#fda016"/>
<text x="291.60" y="462.70" font-size="10.4" fill="#222" font-weight="normal" font-style="normal" text-anchor="end">Liver</text>
<circle cx="298.0" cy="459.3" r="2.7" fill="#4c7ff5"/>
<text x="291.60" y="474.50" font-size="10.4" fill="#222" font-weight="normal" font-style="normal" text-anchor="end">Brain</text>
<circle cx="298.0" cy="471.3" r="2.7" fill="#6450e6"/>
<line x1="424.90" y1="402.00" x2="424.90" y2="545.60" stroke="#333" stroke-width="1.1"/>
<line x1="422.50" y1="545.10" x2="672.80" y2="545.10" stroke="#333" stroke-width="1.1"/>
<line x1="422.70" y1="545.10" x2="424.90" y2="545.10" stroke="#333" stroke-width="1"/>
<text transform="translate(416.60,545.10) rotate(-90)" x="0" y="0" font-size="10" fill="#505050" text-anchor="middle">0</text>
<line x1="422.70" y1="501.50" x2="424.90" y2="501.50" stroke="#333" stroke-width="1"/>
<text transform="translate(416.60,501.50) rotate(-90)" x="0" y="0" font-size="10" fill="#505050" text-anchor="middle">500</text>
<line x1="422.70" y1="457.90" x2="424.90" y2="457.90" stroke="#333" stroke-width="1"/>
<text transform="translate(416.60,457.90) rotate(-90)" x="0" y="0" font-size="10" fill="#505050" text-anchor="middle">1000</text>
<line x1="422.70" y1="414.30" x2="424.90" y2="414.30" stroke="#333" stroke-width="1"/>
<text transform="translate(416.60,414.30) rotate(-90)" x="0" y="0" font-size="10" fill="#505050" text-anchor="middle">1500</text>
<line x1="450.30" y1="545.10" x2="450.30" y2="547.70" stroke="#333" stroke-width="1"/>
<text x="450.30" y="558.40" font-size="10.3" fill="#505050" font-weight="normal" font-style="normal" text-anchor="middle">8</text>
<line x1="500.90" y1="545.10" x2="500.90" y2="547.70" stroke="#333" stroke-width="1"/>
<text x="500.90" y="558.40" font-size="10.3" fill="#505050" font-weight="normal" font-style="normal" text-anchor="middle">16</text>
<line x1="551.50" y1="545.10" x2="551.50" y2="547.70" stroke="#333" stroke-width="1"/>
<text x="551.50" y="558.40" font-size="10.3" fill="#505050" font-weight="normal" font-style="normal" text-anchor="middle">24</text>
<line x1="602.10" y1="545.10" x2="602.10" y2="547.70" stroke="#333" stroke-width="1"/>
<text x="602.10" y="558.40" font-size="10.3" fill="#505050" font-weight="normal" font-style="normal" text-anchor="middle">32</text>
<line x1="652.70" y1="545.10" x2="652.70" y2="547.70" stroke="#333" stroke-width="1"/>
<text x="652.70" y="558.40" font-size="10.3" fill="#505050" font-weight="normal" font-style="normal" text-anchor="middle">40</text>
<text transform="translate(399.00,484.75) rotate(-90)" x="0" y="0" font-size="10.5" fill="#222" font-style="italic" text-anchor="middle" textLength="117.5" lengthAdjust="spacingAndGlyphs">Number of Outlier Genes</text>
<text x="458.30" y="573.00" font-size="10.5" fill="#222" font-weight="normal" font-style="italic" text-anchor="start" textLength="147.60" lengthAdjust="spacingAndGlyphs">Number of Sampled Individuals</text>
<path d="M450.30,535.60 L450.30,537.34 M448.30,535.60 L452.30,535.60 M448.30,537.34 L452.30,537.34" stroke="#6450e6" stroke-width="1.1" fill="none" opacity="0.75"/>
<path d="M500.90,537.51 L500.90,538.91 M498.90,537.51 L502.90,537.51 M498.90,538.91 L502.90,538.91" stroke="#6450e6" stroke-width="1.1" fill="none" opacity="0.75"/>
<path d="M551.50,537.69 L551.50,538.73 M549.50,537.69 L553.50,537.69 M549.50,538.73 L553.50,538.73" stroke="#6450e6" stroke-width="1.1" fill="none" opacity="0.75"/>
<path d="M602.10,536.82 L602.10,537.86 M600.10,536.82 L604.10,536.82 M600.10,537.86 L604.10,537.86" stroke="#6450e6" stroke-width="1.1" fill="none" opacity="0.75"/>
<path d="M652.70,536.21 L652.70,537.25 M650.70,536.21 L654.70,536.21 M650.70,537.25 L654.70,537.25" stroke="#6450e6" stroke-width="1.1" fill="none" opacity="0.75"/>
<polyline points="450.30,536.47 500.90,538.21 551.50,538.21 602.10,537.34 652.70,536.73" fill="none" stroke="#6450e6" stroke-width="1.0"/>
<rect x="448.95" y="535.12" width="2.7" height="2.7" fill="#6450e6"/>
<rect x="499.55" y="536.86" width="2.7" height="2.7" fill="#6450e6"/>
<rect x="550.15" y="536.86" width="2.7" height="2.7" fill="#6450e6"/>
<rect x="600.75" y="535.99" width="2.7" height="2.7" fill="#6450e6"/>
<rect x="651.35" y="535.38" width="2.7" height="2.7" fill="#6450e6"/>
<path d="M450.30,522.43 L450.30,537.25 M448.30,522.43 L452.30,522.43 M448.30,537.25 L452.30,537.25" stroke="#4c7ff5" stroke-width="1.1" fill="none" opacity="0.75"/>
<path d="M500.90,519.72 L500.90,531.93 M498.90,519.72 L502.90,519.72 M498.90,531.93 L502.90,531.93" stroke="#4c7ff5" stroke-width="1.1" fill="none" opacity="0.75"/>
<path d="M551.50,516.32 L551.50,526.79 M549.50,516.32 L553.50,516.32 M549.50,526.79 L553.50,526.79" stroke="#4c7ff5" stroke-width="1.1" fill="none" opacity="0.75"/>
<path d="M602.10,512.75 L602.10,522.34 M600.10,512.75 L604.10,512.75 M600.10,522.34 L604.10,522.34" stroke="#4c7ff5" stroke-width="1.1" fill="none" opacity="0.75"/>
<path d="M652.70,509.44 L652.70,518.16 M650.70,509.44 L654.70,509.44 M650.70,518.16 L654.70,518.16" stroke="#4c7ff5" stroke-width="1.1" fill="none" opacity="0.75"/>
<polyline points="450.30,529.84 500.90,525.83 551.50,521.56 602.10,517.54 652.70,513.80" fill="none" stroke="#4c7ff5" stroke-width="1.0"/>
<rect x="448.95" y="528.49" width="2.7" height="2.7" fill="#4c7ff5"/>
<rect x="499.55" y="524.48" width="2.7" height="2.7" fill="#4c7ff5"/>
<rect x="550.15" y="520.21" width="2.7" height="2.7" fill="#4c7ff5"/>
<rect x="600.75" y="516.19" width="2.7" height="2.7" fill="#4c7ff5"/>
<rect x="651.35" y="512.45" width="2.7" height="2.7" fill="#4c7ff5"/>
<path d="M450.30,515.36 L450.30,536.29 M448.30,515.36 L452.30,515.36 M448.30,536.29 L452.30,536.29" stroke="#fda016" stroke-width="1.1" fill="none" opacity="0.75"/>
<path d="M500.90,513.97 L500.90,530.54 M498.90,513.97 L502.90,513.97 M498.90,530.54 L502.90,530.54" stroke="#fda016" stroke-width="1.1" fill="none" opacity="0.75"/>
<path d="M551.50,510.74 L551.50,524.70 M549.50,510.74 L553.50,510.74 M549.50,524.70 L553.50,524.70" stroke="#fda016" stroke-width="1.1" fill="none" opacity="0.75"/>
<path d="M602.10,508.82 L602.10,521.03 M600.10,508.82 L604.10,508.82 M600.10,521.03 L604.10,521.03" stroke="#fda016" stroke-width="1.1" fill="none" opacity="0.75"/>
<path d="M652.70,506.38 L652.70,515.98 M650.70,506.38 L654.70,506.38 M650.70,515.98 L654.70,515.98" stroke="#fda016" stroke-width="1.1" fill="none" opacity="0.75"/>
<polyline points="450.30,525.83 500.90,522.25 551.50,517.72 602.10,514.93 652.70,511.18" fill="none" stroke="#fda016" stroke-width="1.0"/>
<rect x="448.95" y="524.48" width="2.7" height="2.7" fill="#fda016"/>
<rect x="499.55" y="520.90" width="2.7" height="2.7" fill="#fda016"/>
<rect x="550.15" y="516.37" width="2.7" height="2.7" fill="#fda016"/>
<rect x="600.75" y="513.58" width="2.7" height="2.7" fill="#fda016"/>
<rect x="651.35" y="509.83" width="2.7" height="2.7" fill="#fda016"/>
<path d="M450.30,518.94 L450.30,535.51 M448.30,518.94 L452.30,518.94 M448.30,535.51 L452.30,535.51" stroke="#fc5017" stroke-width="1.1" fill="none" opacity="0.75"/>
<path d="M500.90,515.54 L500.90,529.49 M498.90,515.54 L502.90,515.54 M498.90,529.49 L502.90,529.49" stroke="#fc5017" stroke-width="1.1" fill="none" opacity="0.75"/>
<path d="M551.50,512.31 L551.50,524.52 M549.50,512.31 L553.50,512.31 M549.50,524.52 L553.50,524.52" stroke="#fc5017" stroke-width="1.1" fill="none" opacity="0.75"/>
<path d="M602.10,508.13 L602.10,518.59 M600.10,508.13 L604.10,508.13 M600.10,518.59 L604.10,518.59" stroke="#fc5017" stroke-width="1.1" fill="none" opacity="0.75"/>
<path d="M652.70,504.99 L652.70,514.58 M650.70,504.99 L654.70,504.99 M650.70,514.58 L654.70,514.58" stroke="#fc5017" stroke-width="1.1" fill="none" opacity="0.75"/>
<polyline points="450.30,527.22 500.90,522.52 551.50,518.42 602.10,513.36 652.70,509.78" fill="none" stroke="#fc5017" stroke-width="1.0"/>
<rect x="448.95" y="525.87" width="2.7" height="2.7" fill="#fc5017"/>
<rect x="499.55" y="521.17" width="2.7" height="2.7" fill="#fc5017"/>
<rect x="550.15" y="517.07" width="2.7" height="2.7" fill="#fc5017"/>
<rect x="600.75" y="512.01" width="2.7" height="2.7" fill="#fc5017"/>
<rect x="651.35" y="508.43" width="2.7" height="2.7" fill="#fc5017"/>
<path d="M450.30,508.30 L450.30,527.31 M448.30,508.30 L452.30,508.30 M448.30,527.31 L452.30,527.31" stroke="#dc1f7a" stroke-width="1.1" fill="none" opacity="0.75"/>
<path d="M500.90,502.55 L500.90,518.59 M498.90,502.55 L502.90,502.55 M498.90,518.59 L502.90,518.59" stroke="#dc1f7a" stroke-width="1.1" fill="none" opacity="0.75"/>
<path d="M551.50,494.96 L551.50,511.00 M549.50,494.96 L553.50,494.96 M549.50,511.00 L553.50,511.00" stroke="#dc1f7a" stroke-width="1.1" fill="none" opacity="0.75"/>
<path d="M602.10,489.99 L602.10,502.20 M600.10,489.99 L604.10,489.99 M600.10,502.20 L604.10,502.20" stroke="#dc1f7a" stroke-width="1.1" fill="none" opacity="0.75"/>
<path d="M652.70,485.28 L652.70,494.52 M650.70,485.28 L654.70,485.28 M650.70,494.52 L654.70,494.52" stroke="#dc1f7a" stroke-width="1.1" fill="none" opacity="0.75"/>
<polyline points="450.30,517.81 500.90,510.57 551.50,502.98 602.10,496.09 652.70,489.90" fill="none" stroke="#dc1f7a" stroke-width="1.0"/>
<rect x="448.95" y="516.46" width="2.7" height="2.7" fill="#dc1f7a"/>
<rect x="499.55" y="509.22" width="2.7" height="2.7" fill="#dc1f7a"/>
<rect x="550.15" y="501.63" width="2.7" height="2.7" fill="#dc1f7a"/>
<rect x="600.75" y="494.74" width="2.7" height="2.7" fill="#dc1f7a"/>
<rect x="651.35" y="488.55" width="2.7" height="2.7" fill="#dc1f7a"/>
<text x="451.90" y="427.00" font-size="10.4" fill="#222" font-weight="normal" font-style="normal" text-anchor="start">Mammary</text>
<circle cx="445.9" cy="423.3" r="2.7" fill="#dc1f7a"/>
<text x="451.90" y="438.70" font-size="10.4" fill="#222" font-weight="normal" font-style="normal" text-anchor="start">Kidney</text>
<circle cx="445.9" cy="435.2" r="2.7" fill="#fc5017"/>
<text x="451.90" y="450.70" font-size="10.4" fill="#222" font-weight="normal" font-style="normal" text-anchor="start">Heart</text>
<circle cx="445.9" cy="447.2" r="2.7" fill="#fda016"/>
<text x="451.90" y="462.70" font-size="10.4" fill="#222" font-weight="normal" font-style="normal" text-anchor="start">Liver</text>
<circle cx="445.9" cy="459.3" r="2.7" fill="#4c7ff5"/>
<text x="451.90" y="474.50" font-size="10.4" fill="#222" font-weight="normal" font-style="normal" text-anchor="start">Brain</text>
<circle cx="445.9" cy="471.3" r="2.7" fill="#6450e6"/>
</svg>
</body></html>
